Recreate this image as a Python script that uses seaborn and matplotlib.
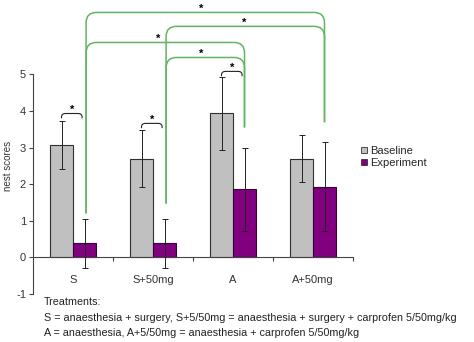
import numpy as np
import pandas as pd
import seaborn as sns
import matplotlib
matplotlib.use("Agg")
import matplotlib.pyplot as plt
from matplotlib.path import Path
from matplotlib.patches import PathPatch
from matplotlib.lines import Line2D

# ---- data ----
categories = ["S", "S+50mg", "A", "A+50mg"]
series = ["Baseline", "Experiment"]
baseline = [3.07, 2.70, 3.93, 2.70]
baseline_err = [0.66, 0.79, 1.00, 0.65]
experiment = [0.38, 0.38, 1.86, 1.93]
experiment_err = [0.68, 0.68, 1.13, 1.21]

# significance between groups (experiment bars): (left idx, right idx, height)
green_pairs = [(0, 3, 6.69), (1, 3, 6.31), (0, 2, 5.87), (1, 2, 5.46)]
green_star_x = [1.60, 2.14, 1.06, 1.60]
green_drop = [1.20, 1.47, 3.55, 3.69]   # lower end of vertical line per category
# within-group brackets (baseline vs experiment): (idx, height)
black_pairs = [(0, 3.93), (1, 3.66), (2, 5.08)]

treat_lines = ["Treatments:",
               "S = anaesthesia + surgery, S+5/50mg = anaesthesia + surgery + carprofen 5/50mg/kg",
               "A = anaesthesia, A+5/50mg = anaesthesia + carprofen 5/50mg/kg"]

sns.set_theme(style="white")
plt.rcParams["font.family"] = ["Liberation Sans", "DejaVu Sans"]

df = pd.DataFrame({
    "cat": categories * 2,
    "series": [series[0]] * 4 + [series[1]] * 4,
    "val": baseline + experiment,
})

fig = plt.figure(figsize=(4.74, 3.42), dpi=100)
ax = fig.add_axes([33 / 474, 1 - 294 / 342, 320 / 474, 294 / 342])

pal = {"Baseline": "#c0c0c0", "Experiment": "#800080"}
sns.barplot(data=df, x="cat", y="val", hue="series", palette=pal, width=0.575,
            errorbar=None, ax=ax, legend=False, saturation=1)

patches = [p for p in ax.patches if p.get_width() > 0][:8]
base_p = patches[:4]
exp_p = patches[4:8]
for p in base_p:
    p.set_edgecolor("#303030"); p.set_linewidth(0.8)
for p in exp_p:
    p.set_edgecolor("#3a003a"); p.set_linewidth(0.8)

bx = [p.get_x() + p.get_width() / 2 for p in base_p]
ex = [p.get_x() + p.get_width() / 2 for p in exp_p]

ax.errorbar(bx, baseline, yerr=baseline_err, fmt="none", ecolor="#222222",
            elinewidth=0.7, capsize=2.2, capthick=0.7, zorder=5)
ax.errorbar(ex, experiment, yerr=experiment_err, fmt="none", ecolor="#222222",
            elinewidth=0.7, capsize=2.2, capthick=0.7, zorder=5)

ax.set_xlim(-0.5, 3.5)
ax.set_ylim(-1, 7.03)

# green rounded brackets
rx, ry = 0.13, 0.28
green = "#62b462"
for (i, j, h), sx in zip(green_pairs, green_star_x):
    x0, x1 = ex[i] + 0.02, ex[j]
    verts = [(x0, green_drop[i]), (x0, h - ry), (x0, h), (x0 + rx, h),
             (x1 - rx, h), (x1, h), (x1, h - ry), (x1, green_drop[j])]
    codes = [Path.MOVETO, Path.LINETO, Path.CURVE3, Path.CURVE3,
             Path.LINETO, Path.CURVE3, Path.CURVE3, Path.LINETO]
    ax.add_patch(PathPatch(Path(verts, codes), fill=False, edgecolor=green,
                           lw=1.1, zorder=3, clip_on=False))
    ax.text(sx, h + 0.09, "*", ha="center", va="center", fontsize=8,
            fontweight="bold", color="black", zorder=6)

# black small brackets
brx, bry = 0.05, 0.1
for i, h in black_pairs:
    x0, x1 = bx[i], ex[i] - 0.03
    verts = [(x0, h - 0.13), (x0, h - bry), (x0, h), (x0 + brx, h),
             (x1 - brx, h), (x1, h), (x1, h - bry), (x1, h - 0.13)]
    codes = [Path.MOVETO, Path.LINETO, Path.CURVE3, Path.CURVE3,
             Path.LINETO, Path.CURVE3, Path.CURVE3, Path.LINETO]
    ax.add_patch(PathPatch(Path(verts, codes), fill=False, edgecolor="#222222",
                           lw=0.8, zorder=4))
    ax.text((x0 + x1) / 2, h + 0.1, "*", ha="center", va="center", fontsize=8,
            fontweight="bold", color="black", zorder=6)

# axes styling
for s in ["top", "right"]:
    ax.spines[s].set_visible(False)
ax.spines["left"].set_bounds(-1, 5)
ax.spines["bottom"].set_position(("data", 0))
ax.spines["left"].set_color("#444444")
ax.spines["bottom"].set_color("#444444")
ax.spines["left"].set_linewidth(0.8)
ax.spines["bottom"].set_linewidth(0.8)

ax.set_yticks(range(-1, 6))
ax.set_yticklabels([str(v) for v in range(-1, 6)], fontsize=8, color="#333333")
ax.tick_params(axis="y", left=True, length=3, width=0.8, color="#444444", pad=2)

ax.set_xticks([0.5, 1.5, 2.5, 3.5])
ax.set_xticklabels([])
ax.set_xticks(range(4), minor=True)
ax.set_xticklabels(categories, minor=True, fontsize=8, color="#333333")
ax.tick_params(axis="x", which="major", bottom=True, length=3, width=0.8, color="#444444")
ax.tick_params(axis="x", which="minor", bottom=False, length=0, pad=12.5)
ax.set_xlabel("")
ax.set_ylabel("")
fig.text(8 / 474, 1 - 166 / 342, "nest scores", rotation=90, ha="center", va="center",
         fontsize=7, color="#333333")

# legend
handles = [Line2D([], [], marker="s", linestyle="", markersize=4.5,
                  markerfacecolor=pal[s], markeredgecolor="#333333",
                  markeredgewidth=0.6, label=s) for s in series]
fig.legend(handles=handles, loc="center left", bbox_to_anchor=(355 / 474, 1 - 157 / 342),
           frameon=False, fontsize=8, handlelength=0.6, handletextpad=0.3,
           labelspacing=0.25, borderpad=0)

# treatment text
for k, (line, ypx) in enumerate(zip(treat_lines, [302, 318, 333])):
    fig.text(44 / 474, 1 - ypx / 342, line, ha="left", va="center", fontsize=7.75,
             color="#222222")

fig.savefig("out.png", dpi=100)
